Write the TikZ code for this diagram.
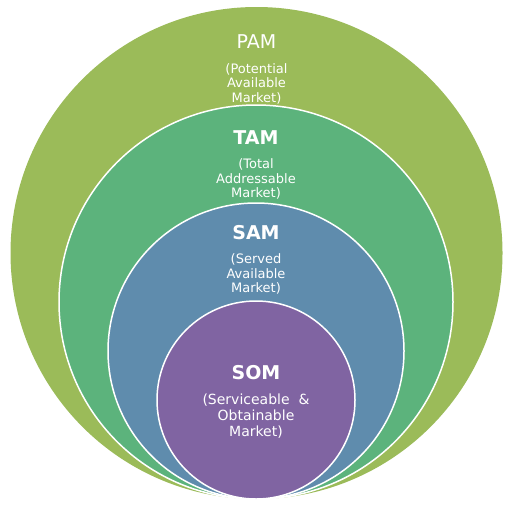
\documentclass[tikz,border=0pt]{standalone}
\usepackage{fontspec}
\setmainfont{DejaVu Sans}
\definecolor{pamc}{HTML}{9BBB59}
\definecolor{tamc}{HTML}{5CB37C}
\definecolor{samc}{HTML}{5F8CAD}
\definecolor{somc}{HTML}{8064A2}
\begin{document}
\begin{tikzpicture}[x=1pt,y=-1pt,
  ring/.style={circle, inner sep=0pt, draw=white, line width=1.5pt},
  ttl/.style={text=white, inner sep=0pt, font=\fontsize{19}{22}\selectfont},
  sub/.style={text=white, inner sep=0pt, align=center, font=\fontsize{13}{14.5}\selectfont}]
\useasboundingbox (0,0) rectangle (513,504);
\node[ring, fill=pamc, draw=none, minimum size=492pt] (pam) at (256.5,253) {};
\node[ring, fill=tamc, minimum size=394pt] (tam) at (256,302) {};
\node[ring, fill=samc, minimum size=296pt] (sam) at (256,351) {};
\node[ring, fill=somc, minimum size=198pt] (som) at (256,400) {};
\node[ttl] (pamt) at (256.5,42) {PAM};
\node[sub] (pams) at (256.5,83.5) {(Potential\\Available\\Market)};
\node[ttl, font=\fontsize{19}{22}\selectfont\bfseries] (tamt) at (256,138) {TAM};
\node[sub] (tams) at (256,179) {(Total\\Addressable\\Market)};
\node[ttl, font=\fontsize{19}{22}\selectfont\bfseries] (samt) at (256,233) {SAM};
\node[sub] (sams) at (256,274) {(Served\\Available\\Market)};
\node[ttl, font=\fontsize{19}{22}\selectfont\bfseries] (somt) at (256,373) {SOM};
\node[sub, font=\fontsize{14}{16}\selectfont] (soms) at (256,416) {(Serviceable~~\&\\Obtainable\\Market)};
\end{tikzpicture}
\end{document}
